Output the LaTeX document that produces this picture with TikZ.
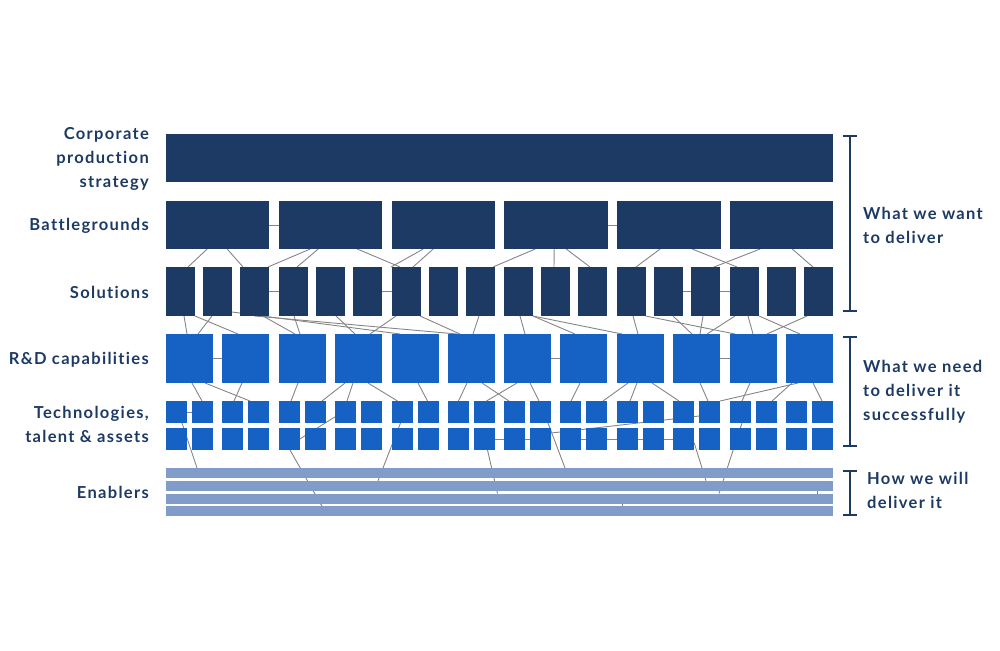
\documentclass[tikz,border=0pt]{standalone}
\usepackage{fontspec}
\setmainfont{Lato}[LetterSpace=8, Ligatures=NoCommon]
\usetikzlibrary{backgrounds}
\definecolor{marino}{HTML}{1D3A64}
\definecolor{azul}{HTML}{1661C4}
\definecolor{celeste}{HTML}{819CC8}
\definecolor{gris}{HTML}{858585}
\tikzset{
  caja/.style={rectangle, inner sep=0pt, outer sep=0pt, anchor=north west},
  oscuro/.style={caja, fill=marino},
  medio/.style={caja, fill=azul},
  claro/.style={caja, fill=celeste},
  enlace/.style={draw=gris, line width=0.9pt},
  etiqueta/.style={text=marino, inner sep=0pt, font=\bfseries\fontsize{16.5}{24}\selectfont},
  llave/.style={draw=marino, line width=2.6pt}
}
\begin{document}
\begin{tikzpicture}[x=1pt,y=-1pt]
\useasboundingbox (0,0) rectangle (1000,650);

% Estrategia y battlegrounds
\node[oscuro, minimum width=667, minimum height=48] (corp) at (166,134) {};
\foreach \n in {1,...,6}{
  \pgfmathsetmacro\px{166+112.8*(\n-1)}
  \node[oscuro, minimum width=103.4, minimum height=48] (bg\n) at (\px,201) {};
}

% Soluciones
\foreach \n in {1,...,18}{
  \pgfmathsetmacro\px{166+112.8*int((\n-1)/3)+37*mod(\n-1,3)}
  \node[oscuro, minimum width=29, minimum height=49] (s\n) at (\px,267) {};
}

% Capacidades
\foreach \n in {1,...,12}{
  \pgfmathsetmacro\px{166+112.8*int((\n-1)/2)+56*mod(\n-1,2)}
  \node[medio, minimum width=47, minimum height=49] (rd\n) at (\px,334) {};
}

% Tecnologias (dos filas)
\foreach \n in {1,...,24}{
  \pgfmathsetmacro\px{166+112.8*int((\n-1)/4)+56*mod(int((\n-1)/2),2)+26*mod(\n-1,2)}
  \node[medio, minimum width=21, minimum height=22] (ta\n) at (\px,401) {};
  \node[medio, minimum width=21, minimum height=22] (tb\n) at (\px,428) {};
}

% Habilitadores
\foreach \n in {1,...,4}{
  \pgfmathsetmacro\py{468+12.75*(\n-1)}
  \node[claro, minimum width=667, minimum height=10] (en\n) at (166,\py) {};
}

% Aristas (detras de las cajas)
\begin{scope}[on background layer]
  \foreach \a/\p/\b/\q in {bg1/-10.5/s1/7.5, bg1/9.5/s3/-11.5, bg2/-20.3/s3/13.5,
      bg2/-12.3/s4/3.7, bg2/26.7/s7/-6.1, bg3/-20.1/s7/-15, bg3/-10.1/s7/6.9,
      bg4/-20.9/s9/12.9, bg4/-1.9/s11/-1.9, bg4/10.1/s12/-2.9, bg5/-8.7/s13/4.3,
      bg5/23.3/s16/-7.5, bg6/-21.5/s15/8.3, bg6/10.5/s18/-5.5,
      s1/3.5/rd1/-2.5, s1/14.5/rd2/-7.5, s2/-5.5/rd1/8.5, s3/8.5/rd3/-7.3,
      s3/0/rd6/-14, s4/0.7/rd3/-2.3, s5/5.7/rd4/-3.3, s7/-10.1/rd4/11.7,
      s7/13.9/rd6/-11.1, s9/-1.1/rd6/1.9, s10/1.1/rd7/-2.9, s10/14/rd8/-8.9,
      s10/14/rd9/-18.7, s13/1.3/rd9/-2.7, s13/14/rd11/-18.5, s14/4.3/rd10/-4.7,
      s15/-2.7/rd10/3.3, s16/-9.5/rd10/10.3, s16/3.5/rd11/-0.5, s16/14.5/rd12/-9.5,
      s18/-11.5/rd11/13.5,
      rd1/2.5/ta2/-0.5, rd1/15.5/ta4/-8.5, rd2/-3.5/ta3/1.5, rd3/-4.3/ta5/1.7,
      rd4/-13.3/ta6/6.7, rd4/-5.3/ta7/1.7, rd4/9.7/ta9/-4.6, rd5/2.9/ta10/-0.6,
      rd6/-4.1/ta11/0.4, rd6/10.9/ta13/-5.9, rd7/-10.9/ta12/2.4, rd7/2.1/ta14/-1.9,
      rd8/-3.9/ta15/0.1, rd9/-12.7/ta16/6.1, rd9/-3.7/ta17/2.3, rd9/11.3/ta19/-4.7,
      rd10/3.3/ta20/-1.7, rd11/-3.5/ta21/1.5, rd12/-17.5/ta22/5.5, rd12/3.5/ta24/-0.5,
      ta1/5.5/en1/-302.5, tb5/0.7/en4/-177.5, ta9/-1.6/en2/-121.5, tb12/3.4/en3/-2,
      ta14/7.1/en1/65.5, ta21/1.5/en3/219.5, en3/122.5/en4/122.5, en2/317.5/en3/317.5}
    \draw[enlace] ([xshift=\p]\a.south) -- ([xshift=\q]\b.north);
  \foreach \a/\b in {bg1/bg2, bg4/bg5, s3/s4, s6/s7, s14/s15, s15/s16,
      rd1/rd2, rd7/rd8, rd10/rd11, ta1/ta2, tb12/tb13, tb13/tb14,
      tb15/tb16, tb16/tb17, tb17/tb18, tb18/tb19}
    \draw[enlace] (\a) -- (\b);
  \draw[enlace] ([yshift=4]s2.south east) -- ([xshift=-15]rd5.north);
  \draw[enlace] ([xshift=-11.5]rd12.south) -- (ta20.north east);
  \draw[enlace] (tb5.east) -- ([yshift=-5]ta7.west);
  \draw[enlace] ([yshift=6]tb14.east) -- ([yshift=-4]ta20.west);
  \draw[enlace] ([yshift=7]tb19.south east) -- ([xshift=206.5]en2.north);
\end{scope}

% Etiquetas
\node[etiqueta, anchor=east, align=right] (l-corp) at (149,159) {Corporate\\production\\strategy};
\node[etiqueta, anchor=base east] (l-bg) at (149,230) {Battlegrounds};
\node[etiqueta, anchor=base east] (l-sol) at (149,298) {Solutions};
\node[etiqueta, anchor=base east] (l-rd) at (149,364) {R\&D capabilities};
\node[etiqueta, anchor=east, align=right] (l-tec) at (149,424) {Technologies,\\talent \& assets};
\node[etiqueta, anchor=base east] (l-en) at (149,498) {Enablers};

% Llaves
\draw[llave] (843,136) -- (857,136) (850,136) -- (850,311) (843,311) -- (857,311);
\draw[llave] (843,337) -- (857,337) (850,337) -- (850,446) (843,446) -- (857,446);
\draw[llave] (843,471) -- (857,471) (850,471) -- (850,515) (843,515) -- (857,515);
\node[etiqueta, anchor=west, align=left] (want) at (863,225) {What we want\\to deliver};
\node[etiqueta, anchor=west, align=left] (need) at (863,392) {What we need\\to deliver it\\successfully};
\node[etiqueta, anchor=west, align=left] (how) at (867,490.5) {How we will\\deliver it};
\end{tikzpicture}
\end{document}
